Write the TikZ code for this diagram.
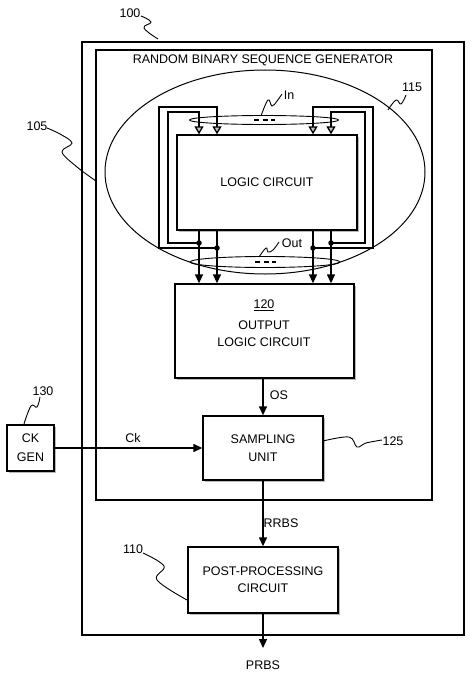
\documentclass[tikz,border=0pt]{standalone}
\usepackage{fontspec}
\setmainfont{Liberation Sans}
\usetikzlibrary{arrows.meta,shapes.geometric,shadows}
\begin{document}
\begin{tikzpicture}[x=1pt,y=-1pt, line width=1.35pt,
  every node/.style={font=\fontsize{12.5}{17}\selectfont},
  frame/.style={draw, inner sep=0pt},
  box/.style={draw, fill=white, inner sep=0pt, align=center,
    drop shadow={shadow xshift=1.6pt, shadow yshift=-1.6pt, fill=gray!55, opacity=1}},
  arr/.style={-{Triangle[length=9pt,width=8pt]}},
  inarr/.style={-{Triangle[length=8pt,width=9pt,fill=gray!45]}},
  lead/.style={line width=0.9pt},
  bundle/.style={draw, ellipse, inner sep=0pt, line width=0.9pt},
  dashes/.style={line width=1.5pt, dash pattern=on 5pt off 3.5pt},
  dot/.style={circle, fill, inner sep=0pt, minimum size=5.5pt}
]
\useasboundingbox (0,0) rectangle (474,677);

% frames
\node[frame, minimum width=382pt, minimum height=593pt] (sys) at (273,338.5) {};
\node[frame, minimum width=336pt, minimum height=450pt] (rbsg) at (264,275) {};
\node (title) at (263,60) {RANDOM BINARY SEQUENCE GENERATOR};

% ellipse 115
\node[draw, ellipse, inner sep=0pt, line width=1pt, minimum width=320pt, minimum height=204pt] (ell) at (265,172) {};

% logic circuit
\node[box, minimum width=180pt, minimum height=95pt] (logic) at (267,182.5) {LOGIC CIRCUIT};

% output logic circuit
\node[box, minimum width=179pt, minimum height=94pt] (olog) at (264.5,331) {};
\node (olognum) at (264,305) {\underline{120}};
\node (ologt1) at (264,325) {OUTPUT};
\node (ologt2) at (264,342) {LOGIC CIRCUIT};

% sampling, ck gen, post-processing
\node[box, minimum width=120pt, minimum height=64pt, font=\fontsize{12.5}{18}\selectfont] (samp) at (263,448) {SAMPLING\\UNIT};
\node[box, minimum width=47pt, minimum height=46pt, font=\fontsize{12.5}{19}\selectfont] (ck) at (30.5,448) {CK\\GEN};
\node[box, minimum width=150pt, minimum height=66pt] (post) at (263,580) {POST-PROCESSING\\CIRCUIT};

% junctions and loop corners
\coordinate (ja) at (199,243);
\coordinate (jb) at (217,248);
\coordinate (jc) at (313,248);
\coordinate (jd) at (331,243);
\coordinate (ca) at (168,112);
\coordinate (cb) at (159,107);
\coordinate (cc) at (373,107);
\coordinate (cd) at (365,112);

% feedback loops to the inputs
\draw[inarr] (ja) -| (ca) -| (logic.north -| ja);
\draw[inarr] (jb) -| (cb) -| (logic.north -| jb);
\draw[inarr] (jc) -| (cc) -| (logic.north -| jc);
\draw[inarr] (jd) -| (cd) -| (logic.north -| jd);

% outputs
\draw[arr] (logic.south -| ja) -- (olog.north -| ja);
\draw[arr] (logic.south -| jb) -- (olog.north -| jb);
\draw[arr] (logic.south -| jc) -- (olog.north -| jc);
\draw[arr] (logic.south -| jd) -- (olog.north -| jd);
\node[dot] (da) at (ja) {};
\node[dot] (db) at (jb) {};
\node[dot] (dc) at (jc) {};
\node[dot] (dd) at (jd) {};

% bundles
\node[bundle, minimum width=149pt, minimum height=9pt] (inb) at (264,120) {};
\draw[dashes] ([xshift=-10pt]inb.center) -- ([xshift=11pt]inb.center);
\node[bundle, minimum width=150pt, minimum height=11pt] (outb) at (265,262) {};
\draw[dashes] ([xshift=-10pt]outb.center) -- ([xshift=11pt]outb.center);
\node (inlbl) at (289,95) {In};
\node (outlbl) at (292,243) {Out};
\draw[lead] plot[smooth, tension=0.7] coordinates {(282,94) (277,101) (272,106) (268,100) (261,116)};
\draw[lead] plot[smooth, tension=0.7] coordinates {(279,242) (273,250) (268,252) (266,248) (259,257)};

% signal arrows
\draw[arr] (olog.south -| samp.north) -- (samp.north);
\node (oslbl) at (279,395) {OS};
\draw[arr] (ck.east) -- (samp.west);
\node (cklbl) at (133,438) {Ck};
\draw[arr] (samp.south) -- (post.north);
\node (rrbs) at (281,523) {RRBS};
\coordinate (prbsend) at (263,648);
\draw[arr] (post.south) -- (prbsend);
\node (prbs) at (263,665) {PRBS};

% reference numerals and leaders
\node (n100) at (130,13) {100};
\draw[lead] plot[smooth, tension=0.7] coordinates {(141,16) (151,22) (144,28) (158,39)};
\node (n105) at (37,126) {105};
\draw[lead] plot[smooth, tension=0.6] coordinates {(47,128) (60,134) (72,143) (62,152) (77,167) (96,181)};
\node (n115) at (412,87) {115};
\draw[lead] plot[smooth, tension=0.7] coordinates {(406,95) (401,104) (396,100) (388,110)};
\node (n125) at (393,441) {125};
\draw[lead] plot[smooth, tension=0.6] coordinates {(323,441) (349,437) (357,447) (366,443) (382,440)};
\node (n130) at (43,391) {130};
\draw[lead] plot[smooth, tension=0.7] coordinates {(40,397) (37,407) (31,406) (24,424)};
\node (n110) at (133,549) {110};
\draw[lead] plot[smooth, tension=0.6] coordinates {(143,553) (164,566) (157,580) (187,600)};
\end{tikzpicture}
\end{document}
